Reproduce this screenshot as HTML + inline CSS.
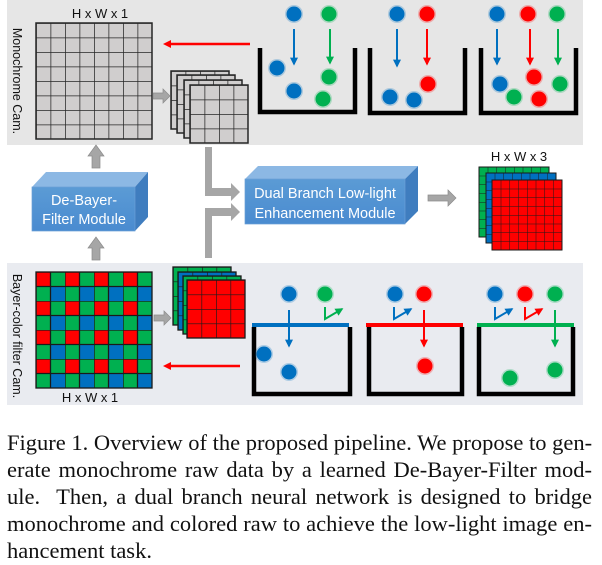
<!DOCTYPE html>
<html><head><meta charset="utf-8"><style>
html,body{margin:0;padding:0;background:#fff;}
body{width:602px;height:565px;position:relative;overflow:hidden;}
svg{position:absolute;left:0;top:0;}
.cap{position:absolute;left:7px;width:585px;font-family:"Liberation Serif",serif;font-size:22.5px;line-height:27px;color:#111;text-align:justify;text-align-last:justify;white-space:nowrap;}
.cap.last{text-align-last:left;}
</style></head><body>
<svg width="602" height="565" viewBox="0 0 602 565" xmlns="http://www.w3.org/2000/svg">
<defs>
<pattern id="g8" width="0.125" height="0.125" patternUnits="objectBoundingBox">
<rect width="14.5" height="14.5" fill="#d0cece"/><path d="M0 0H14.5M0 0V14.5" stroke="#262626" stroke-width="1.5"/></pattern>
<pattern id="g4" width="0.25" height="0.25" patternUnits="objectBoundingBox">
<rect width="14.5" height="14.5" fill="#d0cece"/><path d="M0 0H14.5M0 0V14.5" stroke="#262626" stroke-width="1.5"/></pattern>
<pattern id="bay" width="0.25" height="0.25" patternUnits="objectBoundingBox">
<rect width="14.5" height="14.5" fill="#ff0000"/><rect x="14.5" width="14.5" height="14.5" fill="#00b050"/>
<rect y="14.5" width="14.5" height="14.5" fill="#00b050"/><rect x="14.5" y="14.5" width="14.5" height="14.5" fill="#0070c0"/>
<path d="M0 0H29M0 14.5H29M0 0V29M14.5 0V29" stroke="#1a1a1a" stroke-width="1.3"/></pattern>
<pattern id="pr" width="0.25" height="0.25" patternUnits="objectBoundingBox"><rect width="14.5" height="14.5" fill="#ff0000"/><path d="M0 0H14.5M0 0V14.5" stroke="#1a1a1a" stroke-width="1.3"/></pattern>
<pattern id="pg" width="0.25" height="0.25" patternUnits="objectBoundingBox"><rect width="14.5" height="14.5" fill="#00b050"/><path d="M0 0H14.5M0 0V14.5" stroke="#1a1a1a" stroke-width="1.3"/></pattern>
<pattern id="pb" width="0.25" height="0.25" patternUnits="objectBoundingBox"><rect width="14.5" height="14.5" fill="#0070c0"/><path d="M0 0H14.5M0 0V14.5" stroke="#1a1a1a" stroke-width="1.3"/></pattern>
<pattern id="or" width="0.125" height="0.125" patternUnits="objectBoundingBox"><rect width="8.75" height="8.75" fill="#ff0000"/><path d="M0 0H8.75M0 0V8.75" stroke="#1a1a1a" stroke-width="1"/></pattern>
<pattern id="ob" width="0.125" height="0.125" patternUnits="objectBoundingBox"><rect width="8.75" height="8.75" fill="#0070c0"/><path d="M0 0H8.75M0 0V8.75" stroke="#1a1a1a" stroke-width="1"/></pattern>
<pattern id="og" width="0.125" height="0.125" patternUnits="objectBoundingBox"><rect width="8.75" height="8.75" fill="#00b050"/><path d="M0 0H8.75M0 0V8.75" stroke="#1a1a1a" stroke-width="1"/></pattern>
<marker id="mb" viewBox="0 0 10 10" refX="8" refY="5" markerWidth="4" markerHeight="4" orient="auto"><path d="M0 0L10 5L0 10z" fill="#0070c0"/></marker>
<marker id="mr" viewBox="0 0 10 10" refX="8" refY="5" markerWidth="4" markerHeight="4" orient="auto"><path d="M0 0L10 5L0 10z" fill="#ff0000"/></marker>
<marker id="mg" viewBox="0 0 10 10" refX="8" refY="5" markerWidth="4" markerHeight="4" orient="auto"><path d="M0 0L10 5L0 10z" fill="#00b050"/></marker>
<linearGradient id="bf" x1="0" y1="0" x2="0" y2="1"><stop offset="0" stop-color="#5b9bd5"/><stop offset="1" stop-color="#4a8bd0"/></linearGradient>
</defs>

<rect x="7" y="0" width="576" height="145" fill="#e6e6e6"/>
<rect x="7" y="263" width="576" height="142" fill="#e9ebf0"/>

<text x="100" y="18" font-family="Liberation Sans,sans-serif" font-size="13" text-anchor="middle" fill="#111">H x W x 1</text>
<text transform="translate(13,81) rotate(90)" font-family="Liberation Sans,sans-serif" font-size="12.5" text-anchor="middle" fill="#111">Monochrome Cam.</text>
<rect x="36" y="23" width="116" height="116" fill="url(#g8)" stroke="#262626" stroke-width="1.5"/>
<rect x="171" y="71" width="58" height="58" fill="url(#g4)" stroke="#262626" stroke-width="1.5"/>
<rect x="177" y="75" width="58" height="58" fill="url(#g4)" stroke="#262626" stroke-width="1.5"/>
<rect x="184" y="80" width="58" height="58" fill="url(#g4)" stroke="#262626" stroke-width="1.5"/>
<rect x="190" y="85" width="58" height="58" fill="url(#g4)" stroke="#262626" stroke-width="1.5"/>
<path d="M153 93H163V89L170 96L163 103V99H153z" fill="#a6a6a6" stroke="#8c8c8c" stroke-width=".7"/>
<line x1="250" y1="44" x2="168" y2="44" stroke="#ff0000" stroke-width="2.5"/>
<path d="M163 44L171 40L171 48z" fill="#ff0000"/>

<g fill="none" stroke="#000" stroke-width="4.5">
<path d="M260 48V112H355V48"/><path d="M370 48V113H465V48"/><path d="M481 48V113H576V48"/>
</g>
<g stroke-width="2">
<line x1="294" y1="29" x2="294" y2="64" stroke="#0070c0" marker-end="url(#mb)"/>
<line x1="330" y1="29" x2="330" y2="63" stroke="#00b050" marker-end="url(#mg)"/>
<line x1="397" y1="29" x2="397" y2="66" stroke="#0070c0" marker-end="url(#mb)"/>
<line x1="427" y1="29" x2="427" y2="64" stroke="#ff0000" marker-end="url(#mr)"/>
<line x1="497" y1="29" x2="497" y2="64" stroke="#0070c0" marker-end="url(#mb)"/>
<line x1="530" y1="29" x2="530" y2="64" stroke="#ff0000" marker-end="url(#mr)"/>
<line x1="558" y1="29" x2="558" y2="64" stroke="#00b050" marker-end="url(#mg)"/>
</g>
<g fill="#0070c0"><circle cx="294" cy="14" r="9" opacity=".25"/><circle cx="294" cy="14" r="7.5"/>
<circle cx="277" cy="68" r="9" opacity=".25"/><circle cx="277" cy="68" r="7.5"/>
<circle cx="294" cy="91" r="9" opacity=".25"/><circle cx="294" cy="91" r="7.5"/>
<circle cx="397" cy="14" r="9" opacity=".25"/><circle cx="397" cy="14" r="7.5"/>
<circle cx="390" cy="97" r="9" opacity=".25"/><circle cx="390" cy="97" r="7.5"/>
<circle cx="414" cy="100" r="9" opacity=".25"/><circle cx="414" cy="100" r="7.5"/>
<circle cx="497" cy="14" r="9" opacity=".25"/><circle cx="497" cy="14" r="7.5"/>
<circle cx="500" cy="84" r="9" opacity=".25"/><circle cx="500" cy="84" r="7.5"/></g>
<g fill="#00b050"><circle cx="329" cy="14" r="9" opacity=".25"/><circle cx="329" cy="14" r="7.5"/>
<circle cx="329" cy="77" r="9" opacity=".25"/><circle cx="329" cy="77" r="7.5"/>
<circle cx="323" cy="99" r="9" opacity=".25"/><circle cx="323" cy="99" r="7.5"/>
<circle cx="557" cy="14" r="9" opacity=".25"/><circle cx="557" cy="14" r="7.5"/>
<circle cx="514" cy="97" r="9" opacity=".25"/><circle cx="514" cy="97" r="7.5"/>
<circle cx="560" cy="84" r="9" opacity=".25"/><circle cx="560" cy="84" r="7.5"/></g>
<g fill="#ff0000"><circle cx="427" cy="14" r="9" opacity=".25"/><circle cx="427" cy="14" r="7.5"/>
<circle cx="428" cy="84" r="9" opacity=".25"/><circle cx="428" cy="84" r="7.5"/>
<circle cx="528" cy="14" r="9" opacity=".25"/><circle cx="528" cy="14" r="7.5"/>
<circle cx="534" cy="77" r="9" opacity=".25"/><circle cx="534" cy="77" r="7.5"/>
<circle cx="539" cy="99" r="9" opacity=".25"/><circle cx="539" cy="99" r="7.5"/></g>

<path d="M92 168V156H88L96 145L104 156H100V168z" fill="#a6a6a6" stroke="#8c8c8c" stroke-width=".7"/>
<path d="M92 260V248H88L96 237L104 248H100V260z" fill="#a6a6a6" stroke="#8c8c8c" stroke-width=".7"/>

<path d="M32 187L46 172H148L135 187z" fill="#8cb8e4"/>
<path d="M135 187L148 172V217L135 231z" fill="#3f7dbf"/>
<rect x="32" y="187" width="103" height="44" fill="url(#bf)" stroke="#6a9fd6" stroke-width=".7"/>
<text font-family="Liberation Sans,sans-serif" font-size="14.5" fill="#fff" text-anchor="middle"><tspan x="84" y="205">De-Bayer-</tspan><tspan x="84" y="224">Filter Module</tspan></text>

<path d="M205 147H212V188H231V183L240 192L231 201V196H205z" fill="#a6a6a6"/>
<path d="M205 258V208H231V203L240 212L231 221V216H212V258z" fill="#a6a6a6"/>

<path d="M245 179L258 166H418L405 179z" fill="#8cb8e4"/>
<path d="M405 179L418 166V211L405 224z" fill="#3f7dbf"/>
<rect x="245" y="179" width="160" height="45" fill="url(#bf)" stroke="#6a9fd6" stroke-width=".7"/>
<text font-family="Liberation Sans,sans-serif" font-size="14.5" fill="#fff" text-anchor="middle"><tspan x="325" y="198">Dual Branch Low-light</tspan><tspan x="325" y="218">Enhancement Module</tspan></text>

<path d="M428 195H448V190L456 198L448 206V201H428z" fill="#a6a6a6" stroke="#8c8c8c" stroke-width=".7"/>
<text x="519" y="161" font-family="Liberation Sans,sans-serif" font-size="13" text-anchor="middle" fill="#111">H x W x 3</text>
<rect x="479" y="167" width="70" height="70" fill="url(#og)" stroke="#1a1a1a"/>
<rect x="486" y="173" width="70" height="70" fill="url(#ob)" stroke="#1a1a1a"/>
<rect x="492" y="180" width="70" height="70" fill="url(#or)" stroke="#1a1a1a"/>

<text transform="translate(13,336) rotate(90)" font-family="Liberation Sans,sans-serif" font-size="12.5" text-anchor="middle" fill="#111">Bayer-color filter Cam.</text>
<rect x="36" y="272" width="116" height="116" fill="url(#bay)" stroke="#1a1a1a" stroke-width="1.3"/>
<text x="90" y="402" font-family="Liberation Sans,sans-serif" font-size="13" text-anchor="middle" fill="#111">H x W x 1</text>
<rect x="173" y="267" width="58" height="58" fill="url(#pg)" stroke="#1a1a1a" stroke-width="1.3"/>
<rect x="178" y="272" width="58" height="58" fill="url(#pb)" stroke="#1a1a1a" stroke-width="1.3"/>
<rect x="183" y="276" width="58" height="58" fill="url(#pg)" stroke="#1a1a1a" stroke-width="1.3"/>
<rect x="187" y="280" width="58" height="58" fill="url(#pr)" stroke="#1a1a1a" stroke-width="1.3"/>
<path d="M154 315H164V311L171 318L164 325V321H154z" fill="#a6a6a6" stroke="#8c8c8c" stroke-width=".7"/>
<line x1="240" y1="366" x2="168" y2="366" stroke="#ff0000" stroke-width="2.5"/>
<path d="M163 366L171 362L171 370z" fill="#ff0000"/>

<g fill="none" stroke="#000" stroke-width="4.5">
<path d="M254 327V394H350V327"/><path d="M369 327V394H462V327"/><path d="M479 327V394H573V327"/>
</g>
<line x1="252" y1="325" x2="349" y2="325" stroke="#0070c0" stroke-width="4"/>
<line x1="366" y1="325" x2="463" y2="325" stroke="#ff0000" stroke-width="4"/>
<line x1="477" y1="325" x2="574" y2="325" stroke="#00b050" stroke-width="4"/>
<g stroke-width="2" fill="none">
<line x1="289" y1="310" x2="289" y2="346" stroke="#0070c0" marker-end="url(#mb)"/>
<path d="M325 307V319L342 309" stroke="#00b050" marker-end="url(#mg)"/>
<path d="M394 307V319L411 309" stroke="#0070c0" marker-end="url(#mb)"/>
<line x1="424" y1="310" x2="424" y2="346" stroke="#ff0000" marker-end="url(#mr)"/>
<path d="M495 307V319L512 309" stroke="#0070c0" marker-end="url(#mb)"/>
<path d="M525 307V319L542 309" stroke="#ff0000" marker-end="url(#mr)"/>
<line x1="555" y1="310" x2="555" y2="346" stroke="#00b050" marker-end="url(#mg)"/>
</g>
<g fill="#0070c0">
<circle cx="289" cy="294" r="9" opacity=".25"/><circle cx="289" cy="294" r="7.5"/>
<circle cx="264" cy="354" r="9" opacity=".25"/><circle cx="264" cy="354" r="7.5"/>
<circle cx="289" cy="372" r="9" opacity=".25"/><circle cx="289" cy="372" r="7.5"/>
<circle cx="395" cy="294" r="9" opacity=".25"/><circle cx="395" cy="294" r="7.5"/>
<circle cx="495" cy="294" r="9" opacity=".25"/><circle cx="495" cy="294" r="7.5"/></g>
<g fill="#00b050">
<circle cx="325" cy="294" r="9" opacity=".25"/><circle cx="325" cy="294" r="7.5"/>
<circle cx="555" cy="294" r="9" opacity=".25"/><circle cx="555" cy="294" r="7.5"/>
<circle cx="510" cy="378" r="9" opacity=".25"/><circle cx="510" cy="378" r="7.5"/>
<circle cx="555" cy="370" r="9" opacity=".25"/><circle cx="555" cy="370" r="7.5"/></g>
<g fill="#ff0000">
<circle cx="424" cy="294" r="9" opacity=".25"/><circle cx="424" cy="294" r="7.5"/>
<circle cx="525" cy="294" r="9" opacity=".25"/><circle cx="525" cy="294" r="7.5"/>
<circle cx="425" cy="366" r="9" opacity=".25"/><circle cx="425" cy="366" r="7.5"/></g>
</svg>

<div class="cap" style="top:429px">Figure 1. Overview of the proposed pipeline. We propose to gen-</div>
<div class="cap" style="top:456px">erate monochrome raw data by a learned De-Bayer-Filter mod-</div>
<div class="cap" style="top:483px">ule.&nbsp; Then, a dual branch neural network is designed to bridge</div>
<div class="cap" style="top:510px">monochrome and colored raw to achieve the low-light image en-</div>
<div class="cap last" style="top:537px">hancement task.</div>
</body></html>
